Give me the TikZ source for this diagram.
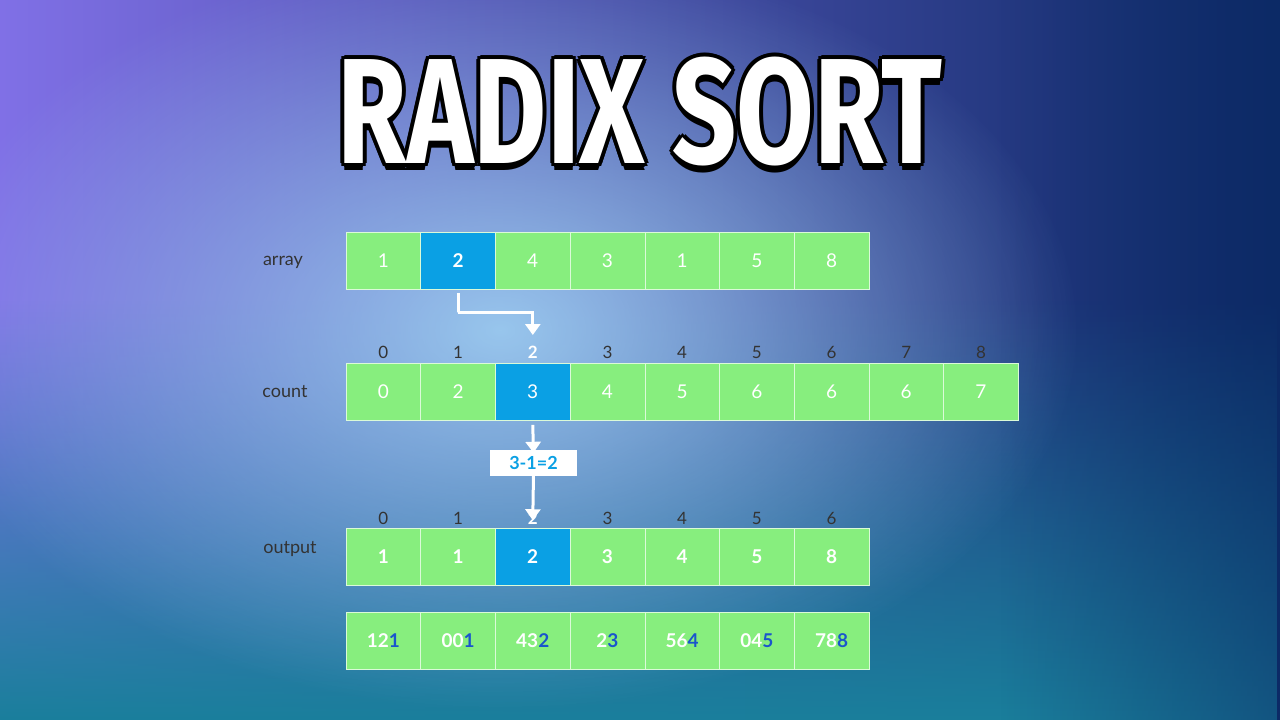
\documentclass[tikz,border=0pt]{standalone}
\usepackage{fontspec}
\setmainfont{Lato}
\newfontfamily\titlefont{Fira Sans}
\usetikzlibrary{fadings,arrows.meta}
\tikzfading[name=soft, inner color=transparent!0, outer color=transparent!100]
\definecolor{cg}{HTML}{87EE7E}
\definecolor{cb}{HTML}{0AA0E4}
\definecolor{dg}{HTML}{1A55CC}
\definecolor{bgp}{HTML}{8070E6}
\definecolor{bgn}{HTML}{0C2A66}
\definecolor{bgt}{HTML}{1A7F9C}
\definecolor{bgl}{HTML}{9CCCF0}
\tikzset{cell/.style={fill=cg,draw=white!70!cg,line width=0.6pt,minimum width=74.7pt,minimum height=57pt,inner sep=0,text=white,font=\fontsize{19}{19}\selectfont},
hcell/.style={cell,fill=cb},
idx/.style={font=\fontsize{17}{17}\selectfont,text=black!80},
lab/.style={font=\fontsize{18}{18}\selectfont,text=black!80},
arr/.style={white,line width=3pt,-{Triangle[length=11pt,width=15pt]}},
ttl/.style={font=\titlefont\bfseries\fontsize{150}{150}\selectfont,xscale=0.75}}
\begin{document}
\begin{tikzpicture}[x=1pt,y=-1pt]
\useasboundingbox (0,0) rectangle (1280,720);
\shade[left color=bgp,right color=bgn] (0,0) rectangle (1280,720);
\fill[bgt,path fading=north] (0,300) rectangle (1280,720);
\fill[bgl,opacity=0.95,path fading=soft] (500,330) ellipse (580 and 380);
\fill[bgn,opacity=0.5,path fading=west] (1000,0) rectangle (1280,720);
% title
\foreach \dx/\dy in {-4/0,4/0,0/-4,0/4,-3/-3,3/3,-3/3,3/-3,0/7}
  \node[ttl,text=black] at (640+\dx,112+\dy) {RADIX SORT};
\node[ttl,text=white] (title) at (640,112) {RADIX SORT};
% labels
\node[lab] (la) at (283,262) {array};
\node[lab] (lc) at (285,392) {count};
\node[lab] (lo) at (290,549) {output};
% array row
\foreach \v [count=\i from 0] in {1,2,4,3,1,5,8}{
  \ifnum\i=1 \node[hcell] (a\i) at (383.35+74.7*\i,260.5) {\bfseries\v};
  \else \node[cell] (a\i) at (383.35+74.7*\i,260.5) {\v};\fi}
% count row
\foreach \v [count=\i from 0] in {0,2,3,4,5,6,6,6,7}{
  \ifnum\i=2 \node[hcell] (c\i) at (383.35+74.7*\i,392) {\v};
  \node[idx,text=white] (ci\i) at (383.35+74.7*\i,352) {\bfseries\i};
  \else \node[cell] (c\i) at (383.35+74.7*\i,392) {\v};
  \node[idx] (ci\i) at (383.35+74.7*\i,352) {\i};\fi}
% output row
\foreach \v [count=\i from 0] in {1,1,2,3,4,5,8}{
  \ifnum\i=2 \node[hcell] (o\i) at (383.35+74.7*\i,557) {\bfseries\v};
  \node[idx,text=white] (oi\i) at (383.35+74.7*\i,518) {\bfseries\i};
  \else \node[cell] (o\i) at (383.35+74.7*\i,557) {\bfseries\v};
  \node[idx] (oi\i) at (383.35+74.7*\i,518) {\i};\fi}
% bottom row
\foreach \a/\b [count=\i from 0] in {12/1,00/1,43/2,2/3,56/4,04/5,78/8}
  \node[cell] (b\i) at (383.35+74.7*\i,640.5) {\bfseries\a\textcolor{dg}{\b}};
% arrows
\coordinate (k1) at (458,312);
\coordinate (e1) at (532.8,335);
\draw[arr] ([yshift=-4pt]a1.south) |- (k1) -| (e1);
\node[fill=white,text=cb,font=\bfseries\fontsize{18}{18}\selectfont,minimum width=87pt,minimum height=26pt,inner sep=0] (eq) at (533.5,463) {3-1=2};
\draw[arr] ([yshift=-4pt]c2.south) -- ([yshift=-3pt]eq.north);
\draw[arr] ([yshift=2pt]eq.south) -- ([yshift=-12pt]oi2.north);
\end{tikzpicture}
\end{document}
